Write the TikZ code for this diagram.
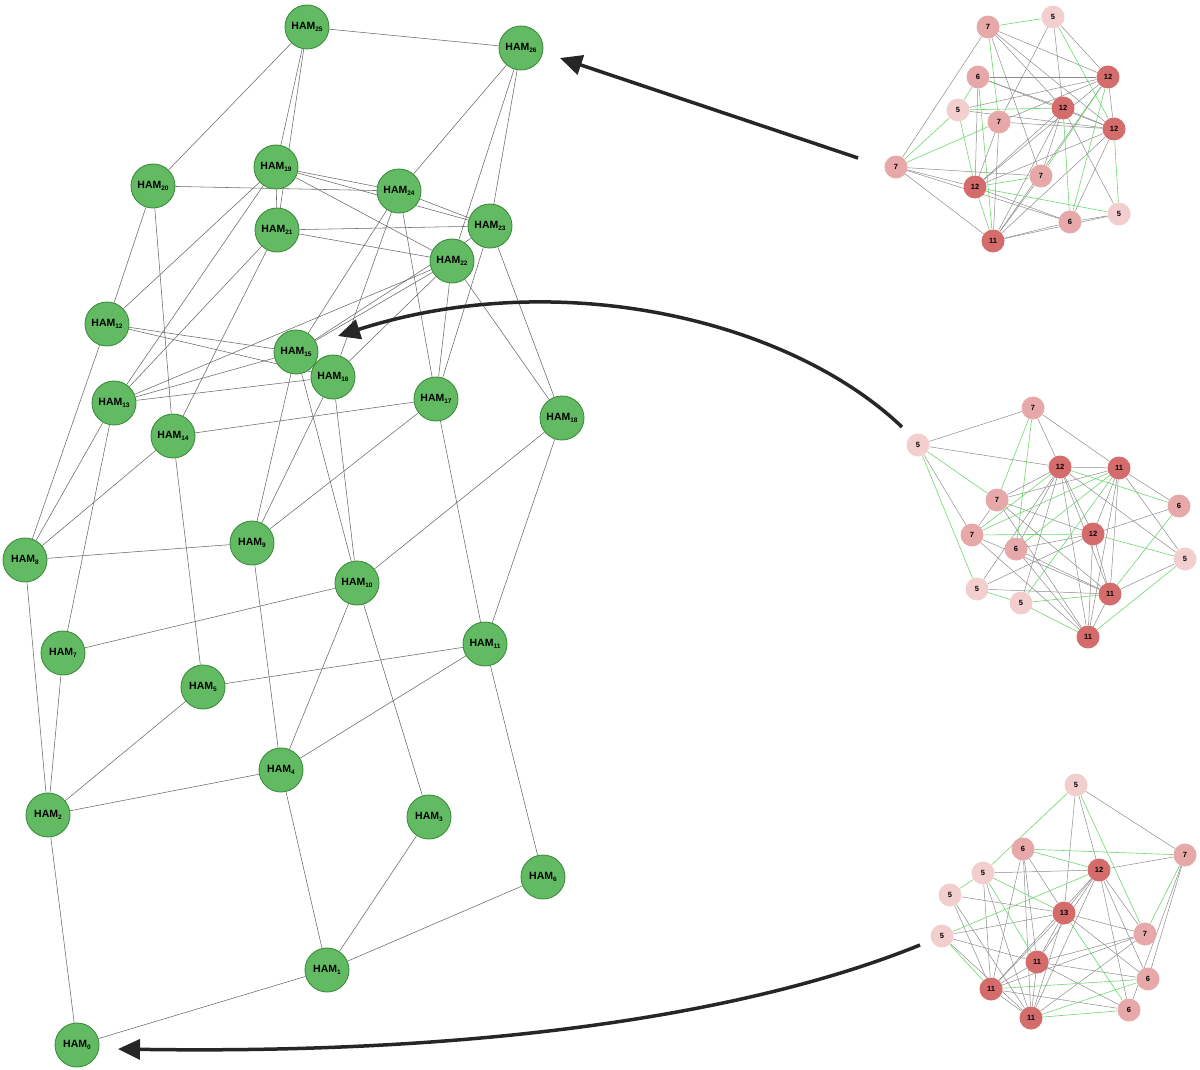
\documentclass[tikz,border=0pt]{standalone}
\usepackage{fontspec}
\setmainfont{Liberation Sans}
\usetikzlibrary{arrows.meta,backgrounds}
\definecolor{hamgreen}{RGB}{98,187,98}
\definecolor{hamedge}{RGB}{62,140,62}
\definecolor{lpink}{RGB}{242,206,206}
\definecolor{mpink}{RGB}{230,168,168}
\definecolor{dred}{RGB}{212,108,108}
\definecolor{ggreen}{RGB}{110,215,110}
\definecolor{egrey}{RGB}{105,105,105}
\definecolor{kgrey}{RGB}{140,140,140}
\newcommand\hamlab[1]{\textbf{HAM\raisebox{-0.3ex}{\fontsize{6.5}{6.5}\selectfont #1}}}
\tikzset{
 ham/.style={circle, fill=hamgreen, draw=hamedge, line width=0.9pt, minimum size=44pt, inner sep=0pt, font=\fontsize{10.5}{11}\selectfont},
 sn/.style={circle, minimum size=23pt, inner sep=0pt, font=\fontsize{7.5}{7.5}\selectfont\bfseries},
 lo/.style={sn, fill=lpink},
 me/.style={sn, fill=mpink},
 hi/.style={sn, fill=dred},
 hedge/.style={draw=egrey, line width=0.55pt},
 gedge/.style={draw=ggreen, line width=0.6pt},
 kedge/.style={draw=kgrey, line width=0.5pt},
 bigarrow/.style={draw=black!85, line width=3.5pt, -{Triangle[length=22pt,width=20pt]}},
}
\begin{document}
\begin{tikzpicture}[x=1pt,y=-1pt]
\useasboundingbox (0,0) rectangle (1200,1070);
% main graph nodes
\foreach \n/\x/\y/\l in {h25/307/27/25, h26/521/48/26, h20/153/186/20, h19/276/167/19,
  h24/399/191/24, h21/277/230/21, h23/490/226/23, h22/452/261/22, h12/107/324/12,
  h15/296/352/15, h16/333/377/16, h13/114/403/13, h17/436/399/17, h14/173/436/14,
  h18/562/418/18, h8/25/560/8, h9/252/543/9, h10/357/583/10, h7/63/653/7,
  h11/485/644/11, h5/203/687/5, h4/281/770/4, h2/48/815/2, h3/429/817/3,
  h6/543/877/6, h1/327/970/1, h0/77/1045/0}
  \node[ham] (\n) at (\x,\y) {\hamlab{\l}};
% small graph A
\foreach \n/\x/\y/\t/\s in {a1/988/27/7/me, a2/1053/17/5/lo, a3/978/77/6/me, a4/1108/77/12/hi,
  a5/958/110/5/lo, a6/1063/108/12/hi, a7/999/122/7/me, a8/1114/129/12/hi, a9/896/167/7/me,
  a10/1041/176/7/me, a11/975/187/12/hi, a12/1119/214/5/lo, a13/1070/222/6/me, a14/993/241/11/hi}
  \node[\s] (\n) at (\x,\y) {\t};
% small graph B
\foreach \n/\x/\y/\t/\s in {b1/1033/408/7/me, b2/918/445/5/lo, b3/1060/467/12/hi, b4/1119/468/11/hi,
  b5/997/500/7/me, b6/1179/506/6/me, b7/972/535/7/me, b8/1093/534/12/hi, b9/1016/549/6/me,
  b10/1185/559/5/lo, b11/977/589/5/lo, b12/1110/594/11/hi, b13/1021/603/5/lo, b14/1088/637/11/hi}
  \node[\s] (\n) at (\x,\y) {\t};
% small graph C
\foreach \n/\x/\y/\t/\s in {c1/1076/785/5/lo, c2/1023/849/6/me, c3/1185/855/7/me, c4/983/873/5/lo,
  c5/1099/870/12/hi, c6/950/895/5/lo, c7/1064/913/13/hi, c8/942/936/5/lo, c9/1145/934/7/me,
  c10/1037/962/11/hi, c11/1148/979/6/me, c12/991/989/11/hi, c13/1129/1010/6/me, c14/1031/1018/11/hi}
  \node[\s] (\n) at (\x,\y) {\t};
\begin{scope}[on background layer]
\foreach \a/\b in {h25/h26, h25/h20, h25/h19, h25/h21, h26/h24, h26/h22, h26/h23,
  h20/h24, h20/h12, h20/h14, h19/h24, h19/h23, h19/h22, h19/h21, h19/h12, h19/h13,
  h24/h23, h21/h23, h21/h22, h21/h13, h21/h14, h24/h15, h24/h16, h24/h17,
  h22/h15, h23/h15, h22/h13, h22/h16, h22/h17, h22/h18, h23/h17, h23/h18,
  h12/h15, h12/h16, h12/h8, h13/h15, h13/h16, h13/h8, h13/h7, h14/h17, h14/h8, h14/h5,
  h15/h9, h15/h10, h16/h9, h16/h10, h17/h9, h17/h11, h18/h10, h18/h11, h8/h9, h8/h2,
  h9/h4, h10/h7, h10/h4, h10/h3, h11/h5, h11/h4, h11/h6, h7/h2, h5/h2, h4/h2, h4/h1,
  h3/h1, h6/h1, h1/h0, h2/h0}
  \draw[hedge] (\a) -- (\b);
% graph A edges
\foreach \a/\b in {a1/a4, a1/a8, a1/a10, a1/a9, a1/a6, a2/a7, a2/a4, a2/a6, a3/a4, a3/a6,
  a3/a8, a3/a11, a5/a4, a5/a8, a7/a4, a7/a8, a7/a11, a7/a14, a6/a8, a6/a11, a6/a14, a6/a12,
  a4/a8, a4/a11, a4/a14, a8/a11, a8/a14, a8/a13, a9/a11, a9/a10, a9/a14, a9/a13, a10/a14,
  a11/a13, a14/a13, a14/a12, a13/a12, a6/a10}
  \draw[kedge] (\a) -- (\b);
\foreach \a/\b in {a1/a2, a1/a7, a3/a5, a3/a14, a5/a6, a5/a11, a9/a5, a9/a7, a6/a13, a4/a13,
  a4/a10, a2/a8, a8/a12, a11/a10, a11/a12, a11/a14}
  \draw[gedge] (\a) -- (\b);
% graph B edges
\foreach \a/\b in {b2/b1, b2/b3, b2/b7, b1/b3, b1/b4, b3/b4, b3/b8, b3/b9, b3/b11, b3/b13,
  b3/b12, b3/b14, b3/b10, b4/b6, b4/b8, b4/b5, b4/b12, b4/b14, b5/b8, b5/b12, b5/b14, b7/b12,
  b7/b14, b7/b5, b9/b8, b9/b12, b9/b14, b8/b12, b8/b14, b8/b11, b8/b6, b11/b12, b12/b14,
  b12/b10, b4/b10, b5/b3}
  \draw[kedge] (\a) -- (\b);
\foreach \a/\b in {b2/b5, b2/b11, b1/b5, b1/b9, b3/b7, b4/b9, b4/b13, b3/b6, b7/b8, b8/b10,
  b11/b13, b13/b12, b13/b14, b14/b10, b12/b6, b4/b7}
  \draw[gedge] (\a) -- (\b);
% graph C edges
\foreach \a/\b in {c1/c7, c1/c5, c1/c3, c2/c7, c2/c12, c2/c14, c2/c10, c4/c5, c4/c12, c4/c14,
  c6/c7, c6/c12, c6/c14, c7/c5, c7/c9, c7/c10, c7/c12, c7/c14, c7/c11, c5/c3, c5/c10, c5/c12,
  c5/c14, c5/c13, c5/c11, c5/c9, c8/c7, c8/c10, c8/c14, c9/c10, c9/c12, c9/c14, c3/c13,
  c3/c11, c10/c12, c10/c14, c10/c11, c12/c14, c12/c13, c10/c13}
  \draw[kedge] (\a) -- (\b);
\foreach \a/\b in {c1/c4, c4/c6, c1/c9, c2/c3, c2/c5, c4/c7, c4/c10, c8/c5, c3/c9, c7/c13,
  c8/c12, c12/c11, c14/c11, c14/c13}
  \draw[gedge] (\a) -- (\b);
\end{scope}
% arrows
\coordinate (s1) at (858,158); \coordinate (t1) at (560,58);
\draw[bigarrow] (s1) -- (t1);
\coordinate (s2) at (902,427); \coordinate (t2) at (338,336);
\draw[bigarrow] (s2) .. controls (790,320) and (560,265) .. (t2);
\coordinate (s3) at (920,945); \coordinate (t3) at (118,1049);
\draw[bigarrow] (s3) .. controls (760,1010) and (500,1055) .. (t3);
\end{tikzpicture}
\end{document}
